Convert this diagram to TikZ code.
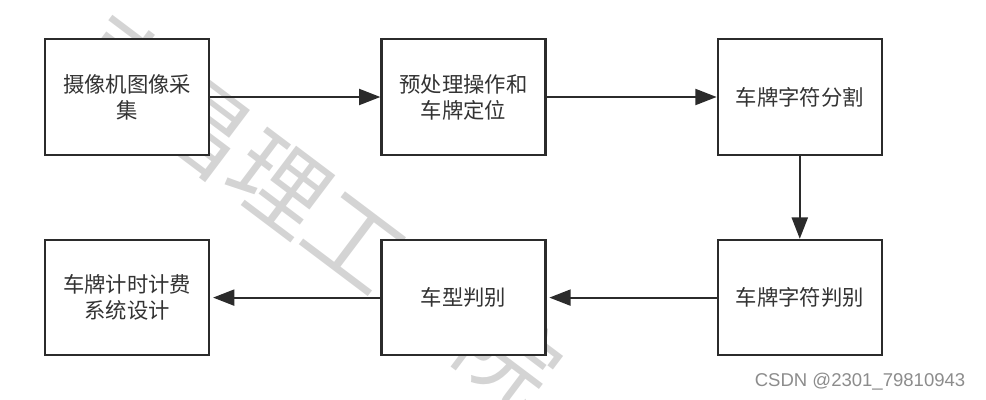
\documentclass[tikz,border=0pt]{standalone}
\usepackage{fontspec}
\setmainfont{Liberation Sans}
\newfontfamily\cjk{Noto Sans CJK SC}
\usetikzlibrary{arrows.meta,positioning}
\definecolor{Ink}{HTML}{333333}
\definecolor{Edge}{HTML}{2B2B2B}
\definecolor{Mark}{HTML}{D4D4D4}
\definecolor{Note}{HTML}{8C8C8C}
\tikzset{
  flowbox/.style={draw=Edge,line width=1.7pt,fill=white,minimum width=123pt,minimum height=86.5pt,inner sep=0pt,align=center,text=Ink,font=\cjk\fontsize{16}{19.5}\selectfont},
  arrow/.style={-{Triangle[length=16pt,width=12pt]},line width=1.6pt,draw=Edge},
  markText/.style={text=Mark,font=\cjk\fontsize{72}{72}\selectfont}
}

\begin{document}
\begin{tikzpicture}[x=0.75pt,y=-0.75pt,node distance=62.25pt and 127.5pt]
\useasboundingbox (0,0) rectangle (986,400);
% watermark behind the boxes
\node[markText,rotate=-37] (mark) at (318,212) {南昌理工学院};
\node[flowbox] (cam) at (127.25,97) {摄像机图像采\\集};
\node[flowbox,right=of cam] (pre) {预处理操作和\\车牌定位};
\node[flowbox,right=of pre] (seg) {车牌字符分割};
\node[flowbox,below=of seg] (rec) {车牌字符判别};
\node[flowbox,left=of rec] (model) {车型判别};
\node[flowbox,left=of model] (fee) {车牌计时计费\\系统设计};
\draw[arrow] (cam)--(pre);
\draw[arrow] (pre)--(seg);
\draw[arrow] (seg)--(rec);
\draw[arrow,shorten >=2pt] (rec)--(model);
\draw[arrow,shorten >=2pt] (model)--(fee);
\node[text=Note,font=\fontsize{13.9}{16}\selectfont,anchor=east] (credit) at (970,382) {CSDN @2301\_79810943};
\end{tikzpicture}
\end{document}
